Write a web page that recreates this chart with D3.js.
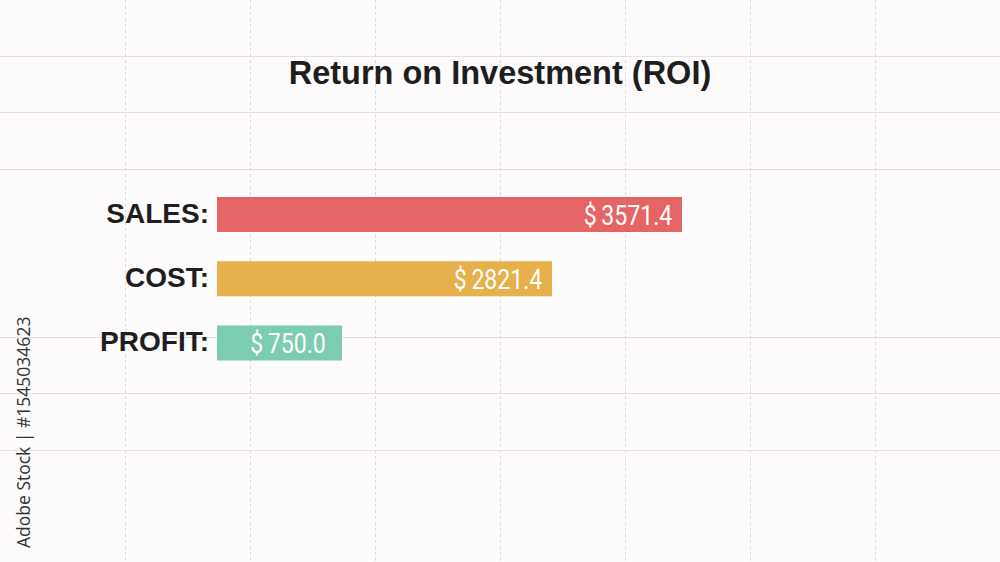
<!DOCTYPE html>
<html>
<head>
<meta charset="utf-8">
<script src="https://cdn.jsdelivr.net/npm/d3@7"></script>
<style>
  html, body { margin: 0; padding: 0; background: #fdfbfb; }
  svg { display: block; }
</style>
</head>
<body>
<svg id="chart" width="1000" height="562"></svg>
<script>
// ---- data ----
const categories = ["SALES:", "COST:", "PROFIT:"];
const labelValues = [3571.4, 2821.4, 750.0];      // numbers printed on the bars
const barValues = [3571.4, 2573, 960];            // bar extents as drawn (animation frame)
const barColors = ["#e56464", "#e6b04a", "#7ccdb0"];
const titleText = "Return on Investment (ROI)";
const sideText = "Adobe Stock | #1545034623";
const gridRows = [1, 2, 3, 6, 7, 8];              // visible horizontal grid rows (of 10)
const gridCols = [1, 2, 3, 4, 5, 6, 7];           // vertical dashed grid columns (of 8)

// ---- layout ----
const W = 1000, H = 562;
const svg = d3.select("#chart");

svg.append("rect").attr("width", W).attr("height", H).attr("fill", "#fdfbfb");

// background grid
const gx = d3.scaleLinear().domain([0, 8]).range([0, W]);
const gy = d3.scaleLinear().domain([0, 10]).range([0, H]);
svg.append("g").selectAll("line").data(gridRows).join("line")
  .attr("x1", 0).attr("x2", W)
  .attr("y1", d => Math.round(gy(d)) + 0.5).attr("y2", d => Math.round(gy(d)) + 0.5)
  .attr("stroke", "#e4e0e0").attr("stroke-width", 1);
svg.append("g").selectAll("line").data(gridCols).join("line")
  .attr("y1", 0).attr("y2", H)
  .attr("x1", d => Math.round(gx(d)) + 0.5).attr("x2", d => Math.round(gx(d)) + 0.5)
  .attr("stroke", "#dedada").attr("stroke-width", 1).attr("stroke-dasharray", "3,3");

// title
svg.append("text")
  .attr("x", 500).attr("y", 84)
  .attr("text-anchor", "middle")
  .attr("font-family", "'Liberation Sans', Arial, sans-serif")
  .attr("font-weight", "bold").attr("font-size", 32.5)
  .attr("fill", "#1e1e1e")
  .text(titleText);

// scales
const x = d3.scaleLinear().domain([0, 3571.4]).range([217, 682]);
const y = d3.scalePoint().domain(categories).range([214.5, 343]);
const barH = 35;

const rows = categories.map((c, i) => ({ cat: c, bar: barValues[i], label: labelValues[i], color: barColors[i] }));

svg.append("g").selectAll("rect").data(rows).join("rect")
  .attr("x", x(0))
  .attr("y", d => y(d.cat) - barH / 2)
  .attr("width", d => x(d.bar) - x(0))
  .attr("height", barH)
  .attr("fill", d => d.color);

// category labels
svg.append("g").selectAll("text").data(rows).join("text")
  .attr("x", 209)
  .attr("y", d => y(d.cat) + 8)
  .attr("text-anchor", "end")
  .attr("font-family", "'Liberation Sans', Arial, sans-serif")
  .attr("font-weight", "bold").attr("font-size", 28)
  .attr("fill", "#1e1e1e")
  .text(d => d.cat);

// value labels (condensed look via horizontal scale)
const fmt = d3.format(".1f");
svg.append("g").selectAll("text").data(rows).join("text")
  .attr("transform", d => `translate(${x(d.bar) - 54},${y(d.cat) + 10}) scale(0.84,1)`)
  .attr("text-anchor", "middle")
  .attr("font-family", "Roboto, sans-serif")
  .attr("font-weight", 400)
  .attr("font-size", 27.5)
  .attr("fill", "#ffffff")
  .text(d => "$\u2009" + fmt(d.label));

// side watermark text
svg.append("text")
  .attr("transform", "translate(30,548) rotate(-90)")
  .attr("font-family", "'Open Sans', 'Noto Sans', sans-serif")
  .attr("font-size", 17.5)
  .attr("fill", "#333333")
  .text(sideText);
</script>
</body>
</html>
